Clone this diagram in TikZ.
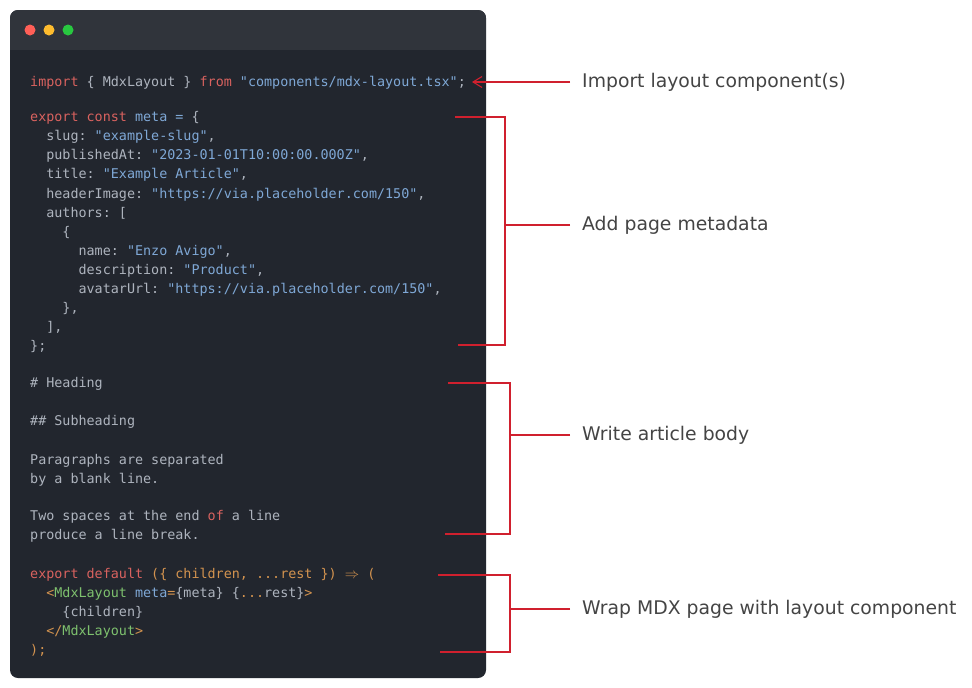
\documentclass[tikz,border=0pt]{standalone}
\usepackage{fontspec}
\setmonofont{DejaVu Sans Mono}
\setmainfont{DejaVu Sans}
\usetikzlibrary{arrows.meta}
\definecolor{bgA}{HTML}{22262E}
\definecolor{bgH}{HTML}{30343B}
\definecolor{kw}{HTML}{D9625F}
\definecolor{st}{HTML}{7FA8D6}
\definecolor{pl}{HTML}{AEB4BE}
\definecolor{or}{HTML}{D3934F}
\definecolor{gr}{HTML}{7EC16E}
\definecolor{ln}{HTML}{D0202E}
\definecolor{lab}{HTML}{444444}
\definecolor{dR}{HTML}{FF5F57}
\definecolor{dY}{HTML}{FEBC2E}
\definecolor{dG}{HTML}{28C840}
\newcommand{\K}[1]{\textcolor{kw}{#1}}
\newcommand{\St}[1]{\textcolor{st}{#1}}
\newcommand{\Or}[1]{\textcolor{or}{#1}}
\newcommand{\G}[1]{\textcolor{gr}{#1}}
\tikzset{
 code/.style={anchor=base west,inner sep=0pt,font=\ttfamily\fontsize{13.4}{14}\selectfont,text=pl},
 lbl/.style={anchor=west,inner sep=0pt,font=\fontsize{18.8}{20}\selectfont,text=lab},
 br/.style={draw=ln,line width=1.1pt},
}
\begin{document}
\begin{tikzpicture}[x=1pt,y=-1pt]
\useasboundingbox (0,0) rectangle (972,688);
\fill[bgA,rounded corners=8pt] (10,10) rectangle (486,678);
\begin{scope}
\clip[rounded corners=8pt] (10,10) rectangle (486,60);
\fill[bgH] (10,10) rectangle (486,50);
\end{scope}
\fill[bgA] (10,50) rectangle (486,60);
\fill[dR] (30,30) circle (5.5);
\fill[dY] (49,30) circle (5.5);
\fill[dG] (68,30) circle (5.5);
\node[code] (l1) at (30,86) {\K{import} \{ MdxLayout \} \K{from} \St{"components/mdx-layout.tsx"};};
\node[code] (l2) at (30,121) {\K{export} \K{const} \St{meta} \St{=} \{};
\node[code] at (30,140) {\ \ slug: \St{"example-slug"},};
\node[code] at (30,159) {\ \ publishedAt: \St{"2023-01-01T10:00:00.000Z"},};
\node[code] at (30,178) {\ \ title: \St{"Example Article"},};
\node[code] at (30,198) {\ \ headerImage: \St{"https://via.placeholder.com/150"},};
\node[code] at (30,217) {\ \ authors: [};
\node[code] at (30,236) {\ \ \ \ \{};
\node[code] at (30,255) {\ \ \ \ \ \ name: \St{"Enzo Avigo"},};
\node[code] at (30,274) {\ \ \ \ \ \ description: \St{"Product"},};
\node[code] at (30,293) {\ \ \ \ \ \ avatarUrl: \St{"https://via.placeholder.com/150"},};
\node[code] at (30,312) {\ \ \ \ \},};
\node[code] at (30,331) {\ \ ],};
\node[code] at (30,350) {\};};
\node[code] at (30,387) {\# Heading};
\node[code] at (30,425) {\#\# Subheading};
\node[code] at (30,464) {Paragraphs are separated};
\node[code] at (30,483) {by a blank line.};
\node[code] at (30,520) {Two spaces at the end \K{of} a line};
\node[code] at (30,539) {produce a line break.};
\node[code] at (30,578) {\K{export} \K{default} \Or{(\{ children, ...rest \})} \Or{\ensuremath{\Rightarrow}} \Or{(}};
\node[code] at (30,597) {\ \ \Or{<}\G{MdxLayout} \St{meta}\Or{=}\{meta\} \{\Or{...}rest\}\Or{>}};
\node[code] at (30,616) {\ \ \ \ \{children\}};
\node[code] at (30,635) {\ \ \Or{</}\G{MdxLayout}\Or{>}};
\node[code] at (30,654) {\Or{);}};
\node[lbl] (t1) at (582,82) {Import layout component(s)};
\node[lbl] (t2) at (582,225) {Add page metadata};
\node[lbl] (t3) at (582,435) {Write article body};
\node[lbl] (t4) at (582,609) {Wrap MDX page with layout component};
\draw[br,-{Straight Barb[length=9pt,width=11pt]},shorten <=12pt] (t1.west) -- ++(-110,0);
\coordinate (a1) at (455,117); \coordinate (b1) at (458,345);
\draw[br] (a1) -- (505,117) -- (505,345) -- (b1);
\draw[br,shorten <=12pt] (t2.west) -- (505,225);
\coordinate (a2) at (448,383); \coordinate (b2) at (445,534);
\draw[br] (a2) -- (510,383) -- (510,534) -- (b2);
\draw[br,shorten <=12pt] (t3.west) -- (510,435);
\coordinate (a3) at (438,575); \coordinate (b3) at (440,652);
\draw[br] (a3) -- (510,575) -- (510,652) -- (b3);
\draw[br,shorten <=12pt] (t4.west) -- (510,609);
\end{tikzpicture}
\end{document}
